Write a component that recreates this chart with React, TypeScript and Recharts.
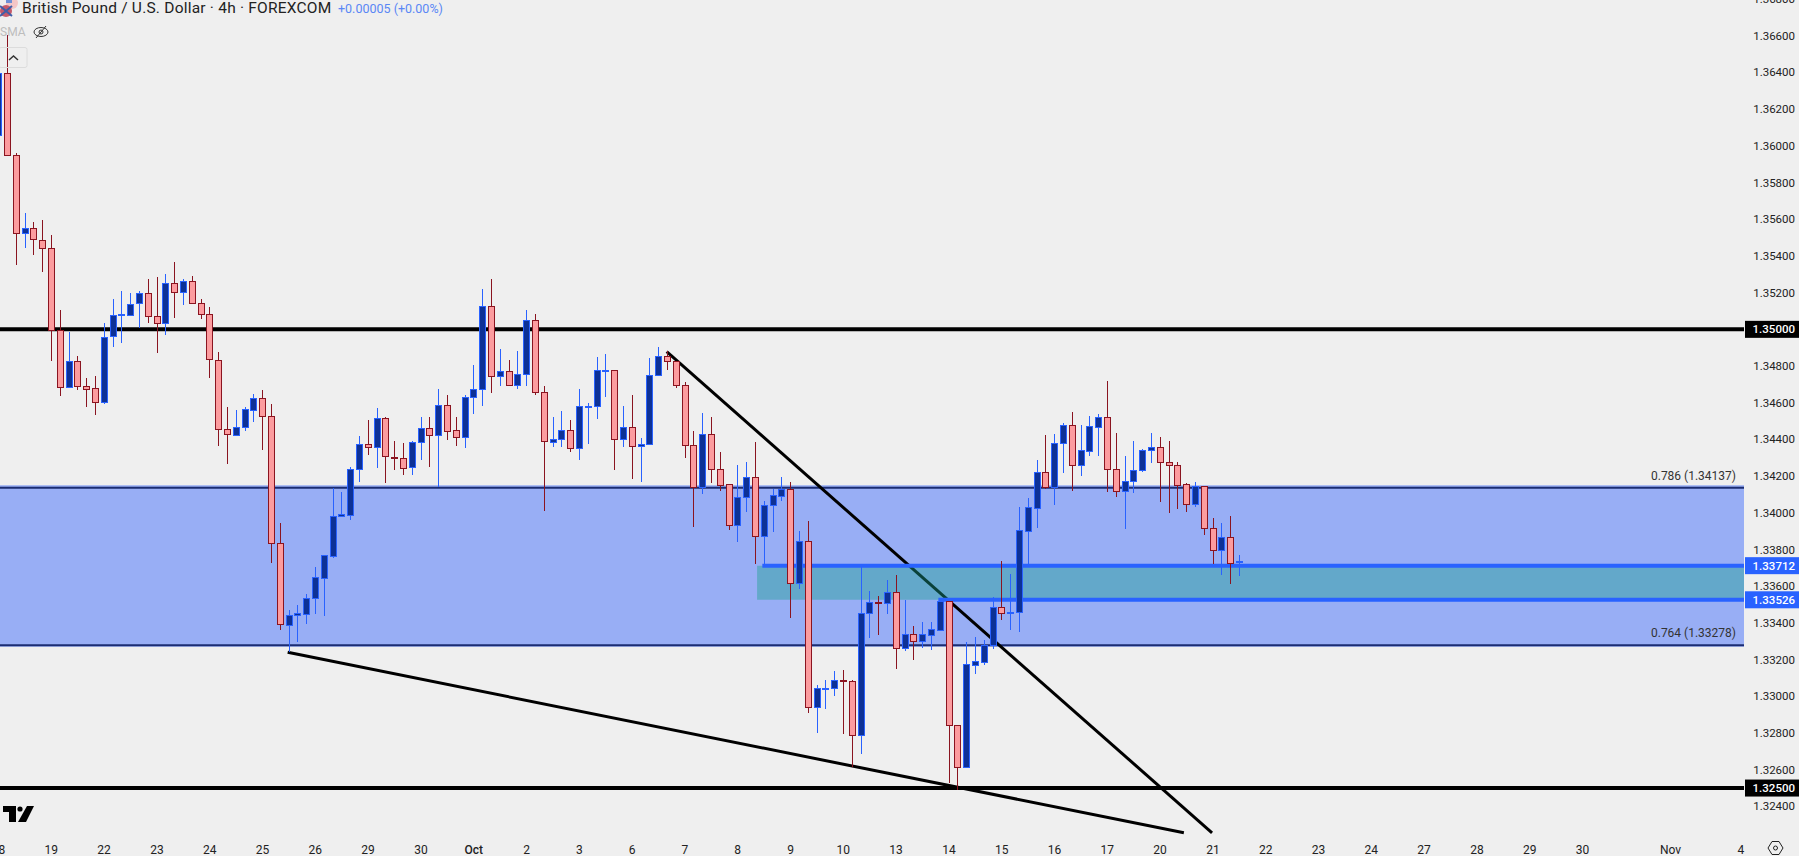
import { Bar, ComposedChart, ReferenceArea, ReferenceLine, XAxis, YAxis } from 'recharts';

const candleOpen = [
  1.36059, 1.36397, 1.3595, 1.35527, 1.35555, 1.35489, 1.35442, 1.34995, 1.34684, 1.34826, 1.3469, 1.34679,
  1.34606, 1.34962, 1.3508, 1.3508, 1.35142, 1.352, 1.35075, 1.35037, 1.35251, 1.35206, 1.35262, 1.35146,
  1.35086, 1.34835, 1.34455, 1.34426, 1.34466, 1.34563, 1.34628, 1.34525, 1.33834, 1.33391, 1.33442, 1.33451,
  1.33538, 1.33647, 1.33767, 1.33985, 1.3399, 1.34237, 1.34374, 1.34357, 1.34515, 1.34306, 1.34297, 1.34248,
  1.34385, 1.34461, 1.34423, 1.34586, 1.3445, 1.34412, 1.3463, 1.34673, 1.35126, 1.34744, 1.34771, 1.34695,
  1.34755, 1.35049, 1.34657, 1.34388, 1.34401, 1.3445, 1.34352, 1.34579, 1.34581, 1.34775, 1.34777, 1.34401,
  1.34466, 1.34363, 1.34374, 1.3475, 1.34853, 1.34826, 1.34695, 1.34368, 1.34143, 1.34428, 1.34237, 1.34156,
  1.33936, 1.34085, 1.34194, 1.33871, 1.3404, 1.34094, 1.34128, 1.33616, 1.33845, 1.3294, 1.33042, 1.33044,
  1.33087, 1.33082, 1.32791, 1.33453, 1.33514, 1.33507, 1.33567, 1.33261, 1.33338, 1.33299, 1.33336, 1.33363,
  1.33518, 1.32842, 1.32612, 1.33173, 1.33189, 1.33282, 1.33485, 1.33456, 1.33458, 1.33903, 1.34029, 1.34221,
  1.34143, 1.34379, 1.34477, 1.34263, 1.34339, 1.3447, 1.34521, 1.34237, 1.34121, 1.34172, 1.34232, 1.34341,
  1.34357, 1.34275, 1.34259, 1.34156, 1.3405, 1.34145, 1.3392, 1.33795, 1.33867, 1.33734,
];
const candleHigh = [
  1.3645, 1.36604, 1.35961, 1.35634, 1.35585, 1.35596, 1.35514, 1.35106, 1.34988, 1.34855, 1.34735, 1.34746,
  1.35035, 1.35165, 1.35209, 1.35198, 1.35209, 1.35274, 1.35285, 1.35302, 1.35367, 1.35274, 1.35291, 1.35165,
  1.35122, 1.34877, 1.34577, 1.3456, 1.34577, 1.34648, 1.3467, 1.34593, 1.33943, 1.33471, 1.33498, 1.33558,
  1.33705, 1.3377, 1.34135, 1.34114, 1.3425, 1.34419, 1.34506, 1.34571, 1.34522, 1.34392, 1.34379, 1.34394,
  1.34522, 1.34522, 1.34675, 1.34642, 1.34522, 1.34642, 1.34806, 1.3522, 1.35274, 1.34893, 1.34833, 1.34882,
  1.35106, 1.35084, 1.34691, 1.34522, 1.34555, 1.34506, 1.34675, 1.34599, 1.34849, 1.34866, 1.34779, 1.34582,
  1.34642, 1.34408, 1.34844, 1.34904, 1.34882, 1.34828, 1.34713, 1.34446, 1.34544, 1.34522, 1.34332, 1.34156,
  1.34261, 1.34277, 1.34386, 1.34065, 1.34132, 1.34195, 1.34168, 1.33901, 1.33956, 1.33062, 1.33089, 1.33138,
  1.33144, 1.33089, 1.33705, 1.33574, 1.33547, 1.33634, 1.33661, 1.33525, 1.33383, 1.33405, 1.33405, 1.33531,
  1.3352, 1.32844, 1.33296, 1.33323, 1.33307, 1.33541, 1.33738, 1.33667, 1.34032, 1.34081, 1.34288, 1.34424,
  1.3443, 1.3449, 1.3455, 1.34479, 1.34528, 1.34539, 1.34719, 1.34435, 1.3431, 1.34392, 1.34348, 1.34435,
  1.34413, 1.34392, 1.34277, 1.34163, 1.34168, 1.34146, 1.33972, 1.33945, 1.33983, 1.3377,
];
const candleLow = [
  1.36, 1.3595, 1.35351, 1.35443, 1.35405, 1.35315, 1.3483, 1.34637, 1.34684, 1.3467, 1.34579, 1.34533,
  1.34595, 1.34904, 1.34926, 1.35073, 1.35007, 1.35035, 1.34871, 1.34969, 1.35062, 1.35133, 1.35146, 1.35056,
  1.34735, 1.34364, 1.34268, 1.34426, 1.34446, 1.34495, 1.34345, 1.33729, 1.33362, 1.3324, 1.33298, 1.33394,
  1.33449, 1.33435, 1.33756, 1.33985, 1.33963, 1.3417, 1.34317, 1.34247, 1.34165, 1.34236, 1.34208, 1.34208,
  1.34288, 1.34252, 1.34141, 1.34397, 1.34364, 1.34353, 1.34539, 1.34582, 1.34653, 1.34691, 1.34695, 1.34675,
  1.34691, 1.34642, 1.3401, 1.34361, 1.34361, 1.34332, 1.34288, 1.34375, 1.34511, 1.34631, 1.34234, 1.34361,
  1.34184, 1.34168, 1.34374, 1.3475, 1.34779, 1.3468, 1.34299, 1.33925, 1.34103, 1.34163, 1.34119, 1.33907,
  1.33841, 1.34005, 1.33721, 1.33716, 1.33896, 1.34065, 1.33427, 1.33585, 1.32909, 1.32802, 1.32931, 1.33002,
  1.32795, 1.32613, 1.32686, 1.33318, 1.33334, 1.33449, 1.33149, 1.33249, 1.33198, 1.33263, 1.33253, 1.33358,
  1.32526, 1.3249, 1.32612, 1.33122, 1.33171, 1.33258, 1.33416, 1.33362, 1.33351, 1.33716, 1.33917, 1.3413,
  1.34043, 1.34217, 1.34119, 1.34201, 1.3431, 1.3431, 1.34114, 1.34086, 1.33912, 1.34108, 1.34223, 1.34272,
  1.34059, 1.33999, 1.34021, 1.34005, 1.34032, 1.33879, 1.33721, 1.33661, 1.33612, 1.33656,
];
const candleClose = [
  1.36397, 1.3595, 1.35527, 1.35555, 1.35491, 1.35443, 1.34995, 1.34684, 1.34826, 1.3469, 1.34677, 1.34606,
  1.34961, 1.3508, 1.35084, 1.3514, 1.352, 1.35075, 1.35037, 1.35251, 1.35206, 1.35262, 1.35146, 1.35086,
  1.34837, 1.34455, 1.34428, 1.34466, 1.34564, 1.34628, 1.34525, 1.33834, 1.33393, 1.33442, 1.33453, 1.33538,
  1.33649, 1.33769, 1.33985, 1.33992, 1.34237, 1.34374, 1.34357, 1.34515, 1.34308, 1.34297, 1.34247, 1.34385,
  1.34461, 1.34423, 1.34586, 1.34448, 1.34412, 1.3463, 1.34673, 1.35126, 1.34744, 1.34771, 1.34695, 1.34755,
  1.35049, 1.34657, 1.3439, 1.34401, 1.3445, 1.34352, 1.34581, 1.34582, 1.34777, 1.34779, 1.34401, 1.34466,
  1.34363, 1.34374, 1.3475, 1.34853, 1.34826, 1.34695, 1.34368, 1.34143, 1.34428, 1.34237, 1.34154, 1.33936,
  1.34085, 1.34194, 1.33871, 1.34041, 1.34096, 1.34128, 1.33616, 1.33845, 1.3294, 1.33044, 1.33044, 1.33087,
  1.33084, 1.32791, 1.33453, 1.33512, 1.33509, 1.33567, 1.33261, 1.33338, 1.33299, 1.33338, 1.33365, 1.3352,
  1.32841, 1.32612, 1.33175, 1.33191, 1.33282, 1.33485, 1.33456, 1.3346, 1.33905, 1.3403, 1.34221, 1.34143,
  1.34379, 1.34477, 1.34263, 1.34341, 1.34472, 1.34521, 1.34237, 1.34121, 1.34172, 1.34232, 1.34341, 1.34357,
  1.34275, 1.34259, 1.34154, 1.3405, 1.34145, 1.3392, 1.33795, 1.33867, 1.33729, 1.33736,
];

// time axis: bar slot of each date label
const dateSlots = [-1, 5, 11, 17, 23, 29, 35, 41, 47, 53, 59, 65, 71, 77, 83, 89, 95, 101, 107, 113, 119, 125, 131, 137, 143, 149, 155, 161, 167, 173, 179, 189, 197];
const dateLabels = ['18', '19', '22', '23', '24', '25', '26', '29', '30', 'Oct', '2', '3', '6', '7', '8', '9', '10', '13', '14', '15', '16', '17', '20', '21', '22', '23', '24', '27', '28', '29', '30', 'Nov', '4'];

const priceTicks = [
  1.368, 1.366, 1.364, 1.362, 1.36, 1.358, 1.356, 1.354, 1.352, 1.348, 1.346, 1.344, 1.342, 1.34, 1.338, 1.336, 1.334, 1.332, 1.33, 1.328, 1.326, 1.324,
];
const blackTags = [1.35, 1.325];
const blueTags = [1.33712, 1.33526];

const xDomain = [-0.83, 197.35];
const yDomain = [1.32255, 1.36795];

const fibHigh = 1.34137;
const fibLow = 1.33278;
const zoneTop = 1.3415;
const zoneBottom = 1.3327;
const wedgeUpper = [{ x: 74.93, y: 1.34878 }, { x: 136.9, y: 1.32256 }];
const wedgeLower = [{ x: 31.86, y: 1.3324 }, { x: 133.7, y: 1.32256 }];

const FONT = 'Roboto, sans-serif';
const BG = '#efefef';
const BLUE = '#2962ff';

const chartData = candleOpen.map((open, k) => ({
  slot: k - 1,
  open,
  high: candleHigh[k],
  low: candleLow[k],
  close: candleClose[k],
}));

function Candle(props: any) {
  const { x, y, width, height, payload } = props;
  const up = payload.close >= payload.open;
  const top = Math.min(y, y + height);
  const k = Math.abs(height) / (payload.high - payload.low);
  const cx = Math.floor(x + width / 2) + 0.5;
  const wickTop = Math.round(top);
  const wickBottom = Math.round(top + Math.abs(height));
  const bodyTop = Math.round(top + (payload.high - Math.max(payload.open, payload.close)) * k) + 0.5;
  let bodyBottom = Math.round(top + (payload.high - Math.min(payload.open, payload.close)) * k) + 0.5;
  if (bodyBottom - bodyTop < 1) bodyBottom = bodyTop + 1;
  return (
    <g>
      <line x1={cx} x2={cx} y1={wickTop} y2={wickBottom} stroke={up ? BLUE : '#8a1420'} strokeWidth={1} />
      <rect
        x={cx - 3}
        y={bodyTop}
        width={6}
        height={bodyBottom - bodyTop}
        fill={up ? '#0d3196' : '#fc9c9f'}
        stroke={up ? BLUE : '#8a1420'}
        strokeWidth={1}
      />
    </g>
  );
}

function PriceTick(props: any) {
  const { y, payload } = props;
  const value = payload.value;
  const black = blackTags.includes(value);
  const blue = blueTags.includes(value);
  const tagged = black || blue;
  return (
    <g>
      {tagged && <rect x={1745} y={y - 8.5} width={54} height={17} fill={black ? '#000' : BLUE} />}
      <text
        x={1795}
        y={y + 4}
        textAnchor="end"
        fontFamily={FONT}
        fontSize={11.5}
        fontWeight={tagged ? 500 : 400}
        fill={tagged ? '#fff' : '#222'}
      >
        {value.toFixed(5)}
      </text>
    </g>
  );
}

function DateTick(props: any) {
  const { x, y, payload } = props;
  const label = dateLabels[dateSlots.indexOf(payload.value)];
  return (
    <text x={x} y={y + 13} textAnchor="middle" fontFamily={FONT} fontSize={12} fontWeight={label === 'Oct' ? 500 : 400} fill="#222">
      {label}
    </text>
  );
}

function Header() {
  return (
    <>
      <svg width={20} height={18} style={{ position: 'absolute', left: 0, top: 0 }}>
        <circle cx={12} cy={3} r={6} fill="#f4c6c6" />
        <rect x={6} y={-3} width={6} height={6} fill="#6d8fd6" />
        <circle cx={6} cy={11} r={6} fill="#c65a6a" />
        <path d="M0 6 L12 16 M12 6 L0 16" stroke="#3f5ea8" strokeWidth={2} />
      </svg>
      <div style={{ position: 'absolute', left: 22, top: -1, fontFamily: FONT, fontSize: 15.5, letterSpacing: 0.22, color: '#222', whiteSpace: 'nowrap', lineHeight: '18px' }}>
        British Pound / U.S. Dollar · 4h · FOREXCOM
      </div>
      <div style={{ position: 'absolute', left: 338, top: 0, fontFamily: FONT, fontSize: 12.5, color: '#5a87f5', whiteSpace: 'nowrap', lineHeight: '18px' }}>
        +0.00005 (+0.00%)
      </div>
      <div style={{ position: 'absolute', left: 0, top: 24, fontFamily: FONT, fontSize: 12, color: '#bdbdbd', lineHeight: '16px' }}>
        SMA
      </div>
      <svg width={18} height={14} style={{ position: 'absolute', left: 32, top: 25 }}>
        <ellipse cx={9} cy={7} rx={7} ry={4.5} fill="none" stroke="#333" strokeWidth={1} />
        <circle cx={9} cy={7} r={2} fill="none" stroke="#333" strokeWidth={1} />
        <line x1={14} y1={1} x2={4} y2={13} stroke="#333" strokeWidth={1} />
      </svg>
      <svg width={28} height={22} style={{ position: 'absolute', left: 0, top: 47 }}>
        <rect x={-1} y={0.5} width={28} height={20} rx={2} fill="none" stroke="#dcdcdc" />
        <path d="M9 13 L13.5 9 L18 13" fill="none" stroke="#333" strokeWidth={1.5} />
      </svg>
      <svg width={36} height={20} style={{ position: 'absolute', left: 1, top: 804 }}>
        <path d="M2 2 H15 V18 H8 V8 H2 Z" fill="#000" />
        <circle cx={19} cy={5} r={2.6} fill="#000" />
        <path d="M26 2 H33 L25 18 H17 Z" fill="#000" />
      </svg>
      <svg width={18} height={18} style={{ position: 'absolute', left: 1767, top: 839 }}>
        <path d="M5 2.5 H12 L16 9 L12 15.5 H5 L1 9 Z" fill="none" stroke="#222" strokeWidth={1} />
        <circle cx={8.5} cy={9} r={2} fill="none" stroke="#222" strokeWidth={1} />
      </svg>
    </>
  );
}

export default function App() {
  return (
    <div style={{ position: 'absolute', left: 0, top: 0, width: 1799, height: 856, background: BG, overflow: 'hidden' }}>
      <ComposedChart width={1799} height={856} data={chartData} margin={{ top: 0, right: 0, bottom: 0, left: 0 }}>
        <XAxis
          dataKey="slot"
          type="number"
          domain={xDomain}
          allowDataOverflow
          ticks={dateSlots}
          interval={0}
          height={23}
          axisLine={false}
          tickLine={false}
          tick={<DateTick />}
        />
        <YAxis
          orientation="right"
          type="number"
          domain={yDomain}
          allowDataOverflow
          ticks={[...priceTicks, ...blueTags, ...blackTags]}
          interval={0}
          width={55}
          axisLine={false}
          tickLine={false}
          tick={<PriceTick />}
        />
        <ReferenceArea y1={zoneBottom} y2={zoneTop} fill="#98aef5" fillOpacity={1} stroke="none" zIndex={100} />
        <ReferenceLine y={fibHigh} stroke="#1b2c72" strokeWidth={2} zIndex={110}
          label={{ value: '0.786 (1.34137)', position: 'insideBottomRight', offset: 8, fill: '#333', fontSize: 12, fontFamily: FONT }} />
        <ReferenceLine y={fibLow} stroke="#1b2c72" strokeWidth={2} zIndex={110}
          label={{ value: '0.764 (1.33278)', position: 'insideBottomRight', offset: 8, fill: '#333', fontSize: 12, fontFamily: FONT }} />
        <ReferenceLine y={blackTags[0]} stroke="#000" strokeWidth={4} zIndex={120} />
        <ReferenceLine y={blackTags[1]} stroke="#000" strokeWidth={4} zIndex={120} />
        <ReferenceLine segment={wedgeUpper} stroke="#000" strokeWidth={3} ifOverflow="visible" zIndex={130} />
        <ReferenceLine segment={wedgeLower} stroke="#000" strokeWidth={3} ifOverflow="visible" zIndex={130} />
        <ReferenceArea x1={85.2} x2={xDomain[1]} y1={blueTags[1]} y2={blueTags[0]} fill="rgb(24,160,140)" fillOpacity={0.41} stroke="none" zIndex={140} />
        <ReferenceLine segment={[{ x: 85.8, y: blueTags[0] }, { x: xDomain[1], y: blueTags[0] }]} stroke={BLUE} strokeWidth={4} ifOverflow="visible" zIndex={150} />
        <ReferenceLine segment={[{ x: 105.8, y: blueTags[1] }, { x: xDomain[1], y: blueTags[1] }]} stroke={BLUE} strokeWidth={4} ifOverflow="visible" zIndex={150} />
        <Bar dataKey={(d: any) => [d.low, d.high]} barSize={7} shape={<Candle />} isAnimationActive={false} zIndex={300} />
      </ComposedChart>
      <Header />
    </div>
  );
}
